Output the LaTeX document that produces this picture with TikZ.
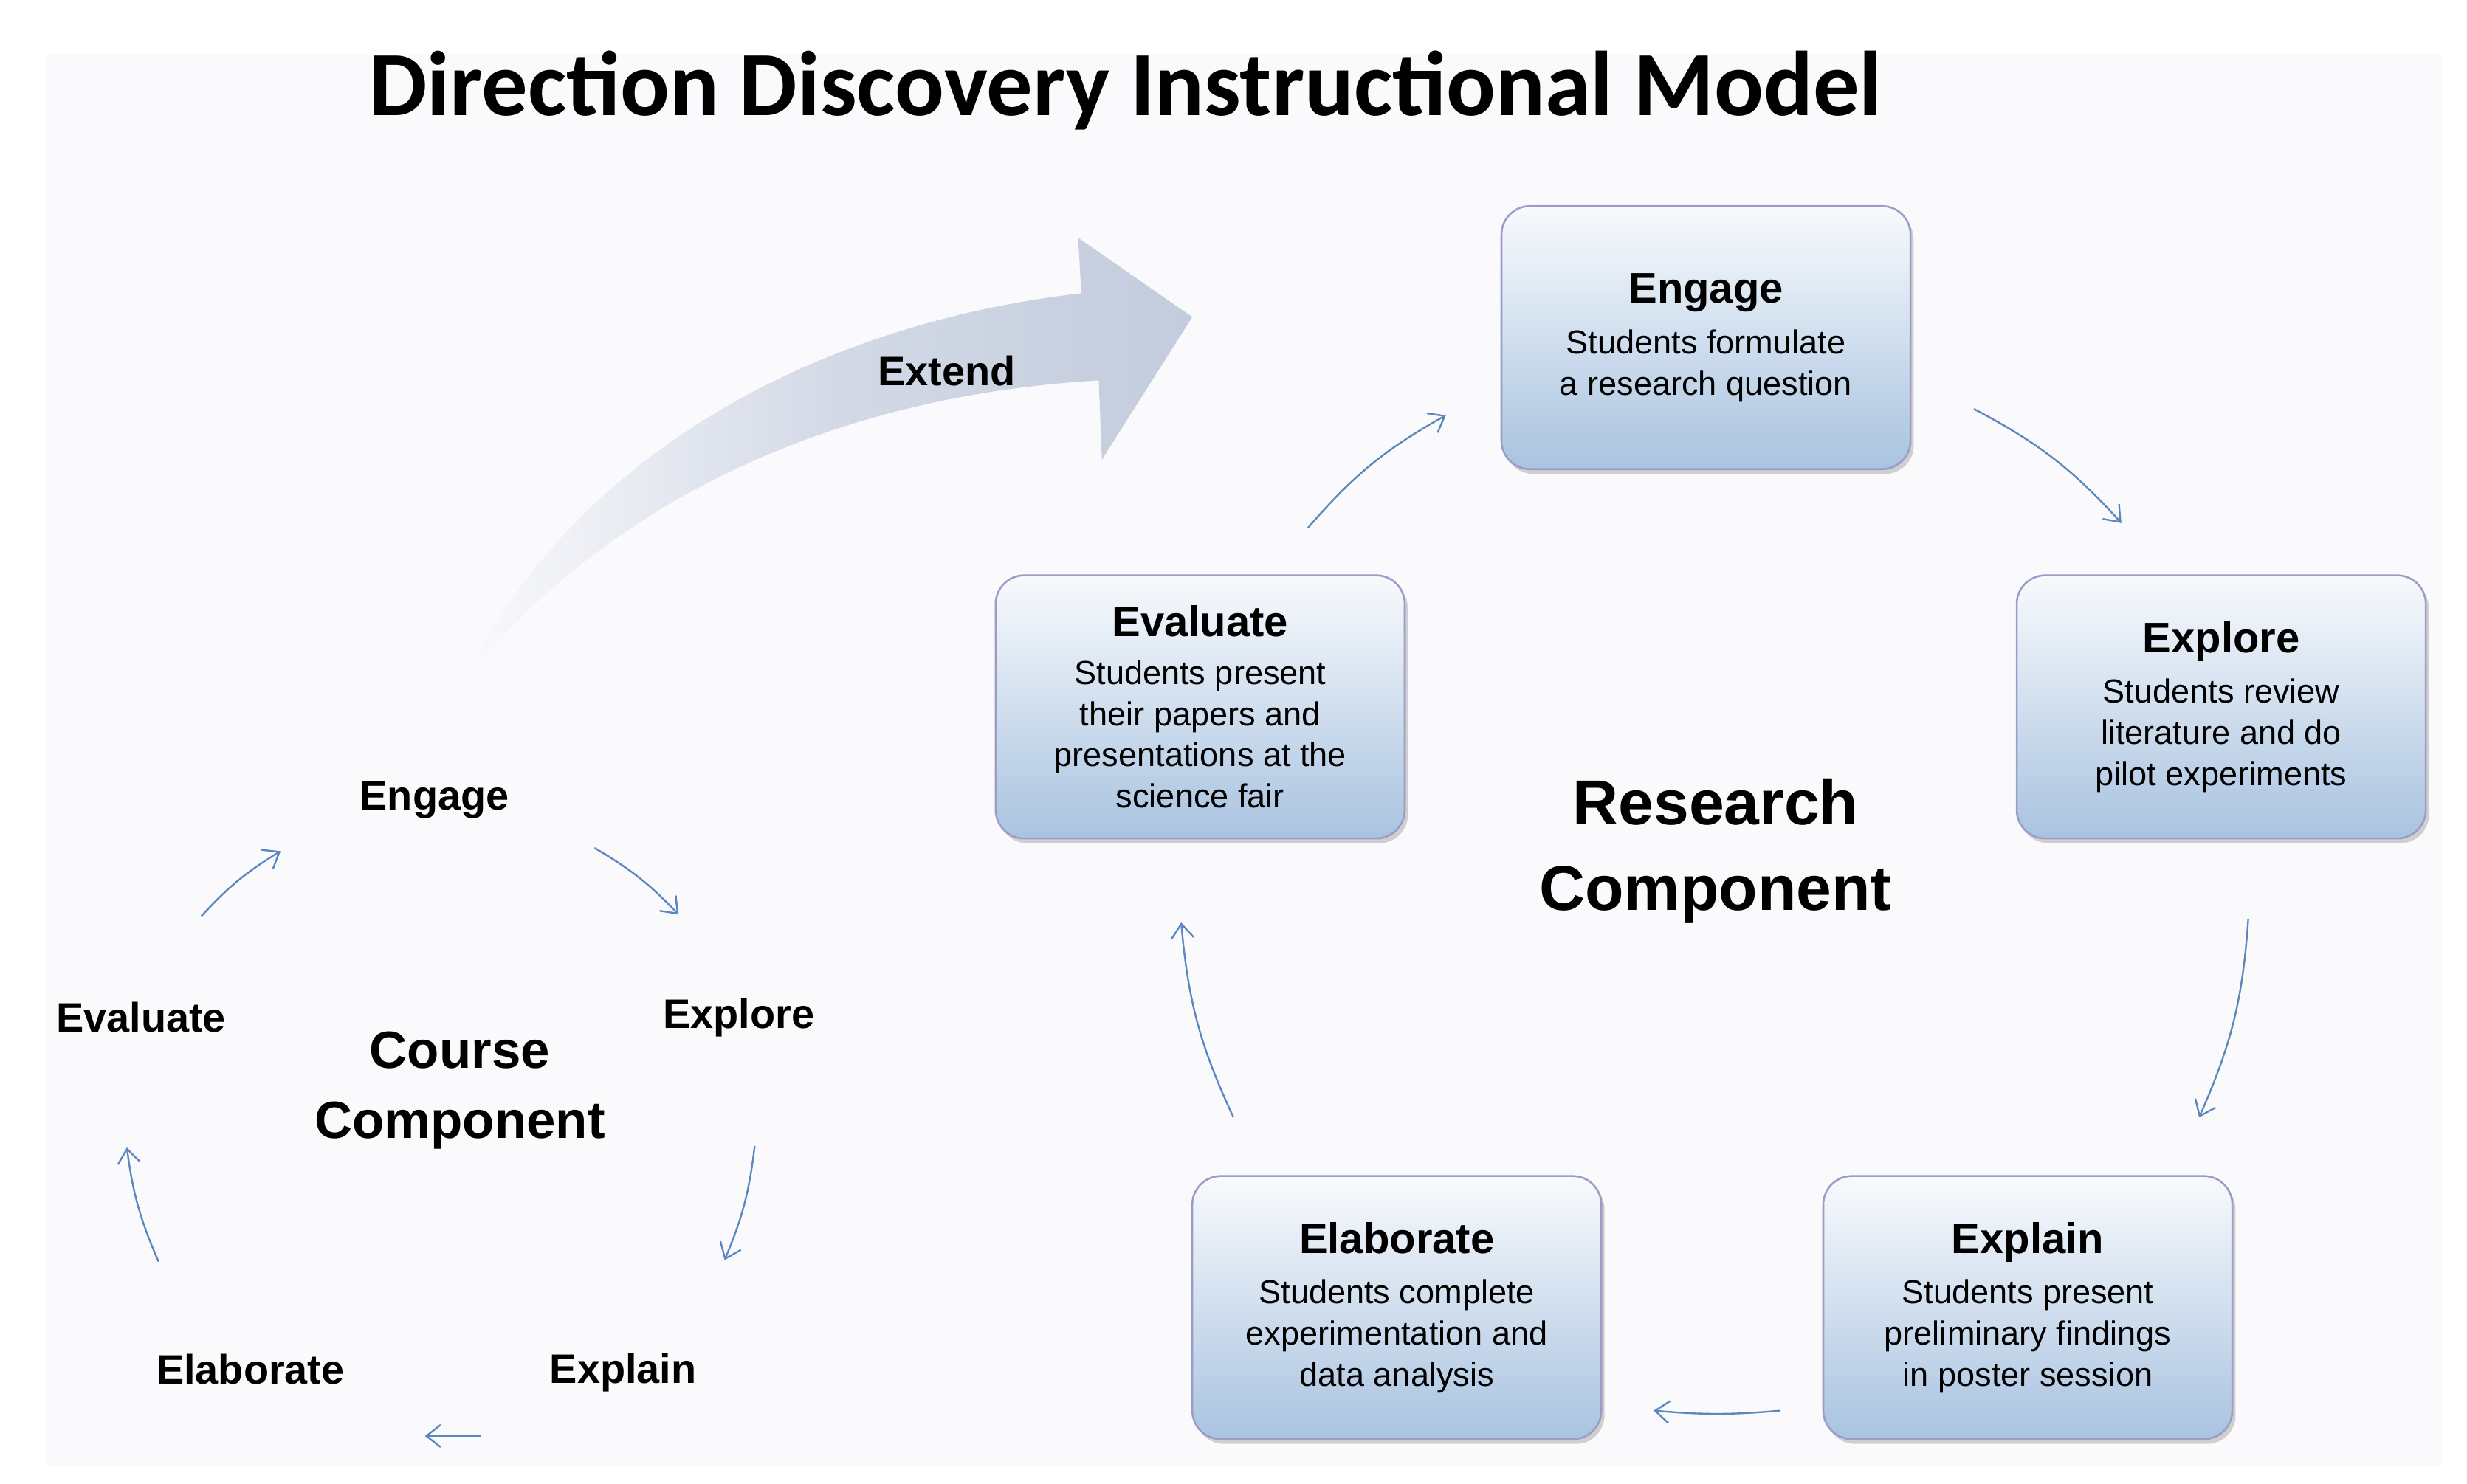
\documentclass[tikz,border=0pt]{standalone}
\usepackage{fontspec}
\setmainfont{Liberation Sans}
\newfontfamily\ttl{Carlito}
\usetikzlibrary{shadows,arrows.meta}
\definecolor{bg}{HTML}{FAFAFC}
\definecolor{bx}{HTML}{A9C3E0}
\definecolor{ln}{HTML}{5B86BE}
\definecolor{arw}{HTML}{C3CCDD}
\tikzset{
 box/.style={draw=gray!70!blue!60,line width=1.2pt,rounded corners=18pt,minimum width=258pt,minimum height=166pt,
   top color=white!92!bx,bottom color=bx,drop shadow={shadow xshift=2pt,shadow yshift=-3pt,opacity=0.35},
   align=center,font=\fontsize{21}{26}\selectfont,anchor=north west,inner sep=4pt,outer sep=0pt},
 ar/.style={draw=ln,line width=1.1pt,-{Straight Barb[length=9pt,width=14pt]}},
 lab/.style={font=\fontsize{26}{30}\selectfont\bfseries},
}
\begin{document}
\begin{tikzpicture}[x=1pt,y=-1pt]
\useasboundingbox (0,0) rectangle (1556,936);
\fill[white] (0,0) rectangle (1556,936);
\fill[bg] (30,35) rectangle (1540,925);
\node[font=\ttl\fontsize{58}{62}\selectfont\bfseries] (title) at (710,57) {Direction Discovery Instructional Model};
% big arrow
\path[left color=bg,right color=arw,middle color=arw!70!bg]
 (292,430) .. controls (360,290) and (510,205) .. (682,185) -- (680,150) -- (752,200) -- (695,290) -- (693,240) .. controls (520,250) and (380,320) .. (292,430) -- cycle;
\node[lab] (extend) at (597,234) {Extend};
% boxes
\node[box] (eng) at (947,130) {{\fontsize{27}{34}\selectfont\bfseries Engage}\\[6pt]Students formulate\\a research  question};
\node[box] (exp) at (1272,363) {{\fontsize{27}{34}\selectfont\bfseries Explore}\\[6pt]Students review\\literature  and do\\pilot experiments};
\node[box] (expl) at (1150,742) {{\fontsize{27}{34}\selectfont\bfseries Explain}\\[6pt]Students present\\preliminary findings\\in poster session};
\node[box] (ela) at (752,742) {{\fontsize{27}{34}\selectfont\bfseries Elaborate}\\[6pt]Students complete\\experimentation and\\data analysis};
\node[box,inner sep=2pt] (eva) at (628,363) {{\fontsize{27}{34}\selectfont\bfseries Evaluate}\\[4pt]Students present\\their papers and\\presentations at the\\science fair};
\node[font=\fontsize{40}{54}\selectfont\bfseries,align=center] (rc) at (1082,537) {Research\\Component};
% research arrows
\coordinate (a1) at (825,333); \coordinate (a2) at (912,262);
\coordinate (b1) at (1245,258); \coordinate (b2) at (1338,330);
\coordinate (c1) at (1418,580); \coordinate (c2) at (1387,705);
\coordinate (d1) at (1123,890); \coordinate (d2) at (1043,890);
\coordinate (e1) at (778,705); \coordinate (e2) at (745,582);
\draw[ar] (a1) to[bend left=10] (a2);
\draw[ar] (b1) to[bend left=10] (b2);
\draw[ar] (c1) to[bend left=10] (c2);
\draw[ar] (d1) to[bend left=5] (d2);
\draw[ar] (e1) to[bend left=10] (e2);
% course
\node[lab] (cen) at (274,505) {Engage};
\node[lab] (cev) at (89,642) {Evaluate};
\node[lab] (cex) at (466,642) {Explore};
\node[lab] (cep) at (393,866) {Explain};
\node[lab] (cel) at (158,864) {Elaborate};
\node[font=\fontsize{33}{44}\selectfont\bfseries,align=center] (cc) at (290,688) {Course\\Component};
\coordinate (f1) at (127,578); \coordinate (f2) at (177,537);
\coordinate (g1) at (375,535); \coordinate (g2) at (428,577);
\coordinate (h1) at (476,723); \coordinate (h2) at (457,795);
\coordinate (i1) at (303,906); \coordinate (i2) at (268,906);
\coordinate (j1) at (100,796); \coordinate (j2) at (80,724);
\draw[ar] (f1) to[bend left=8] (f2);
\draw[ar] (g1) to[bend left=8] (g2);
\draw[ar] (h1) to[bend left=8] (h2);
\draw[ar] (i1) to (i2);
\draw[ar] (j1) to[bend left=8] (j2);
\end{tikzpicture}
\end{document}
